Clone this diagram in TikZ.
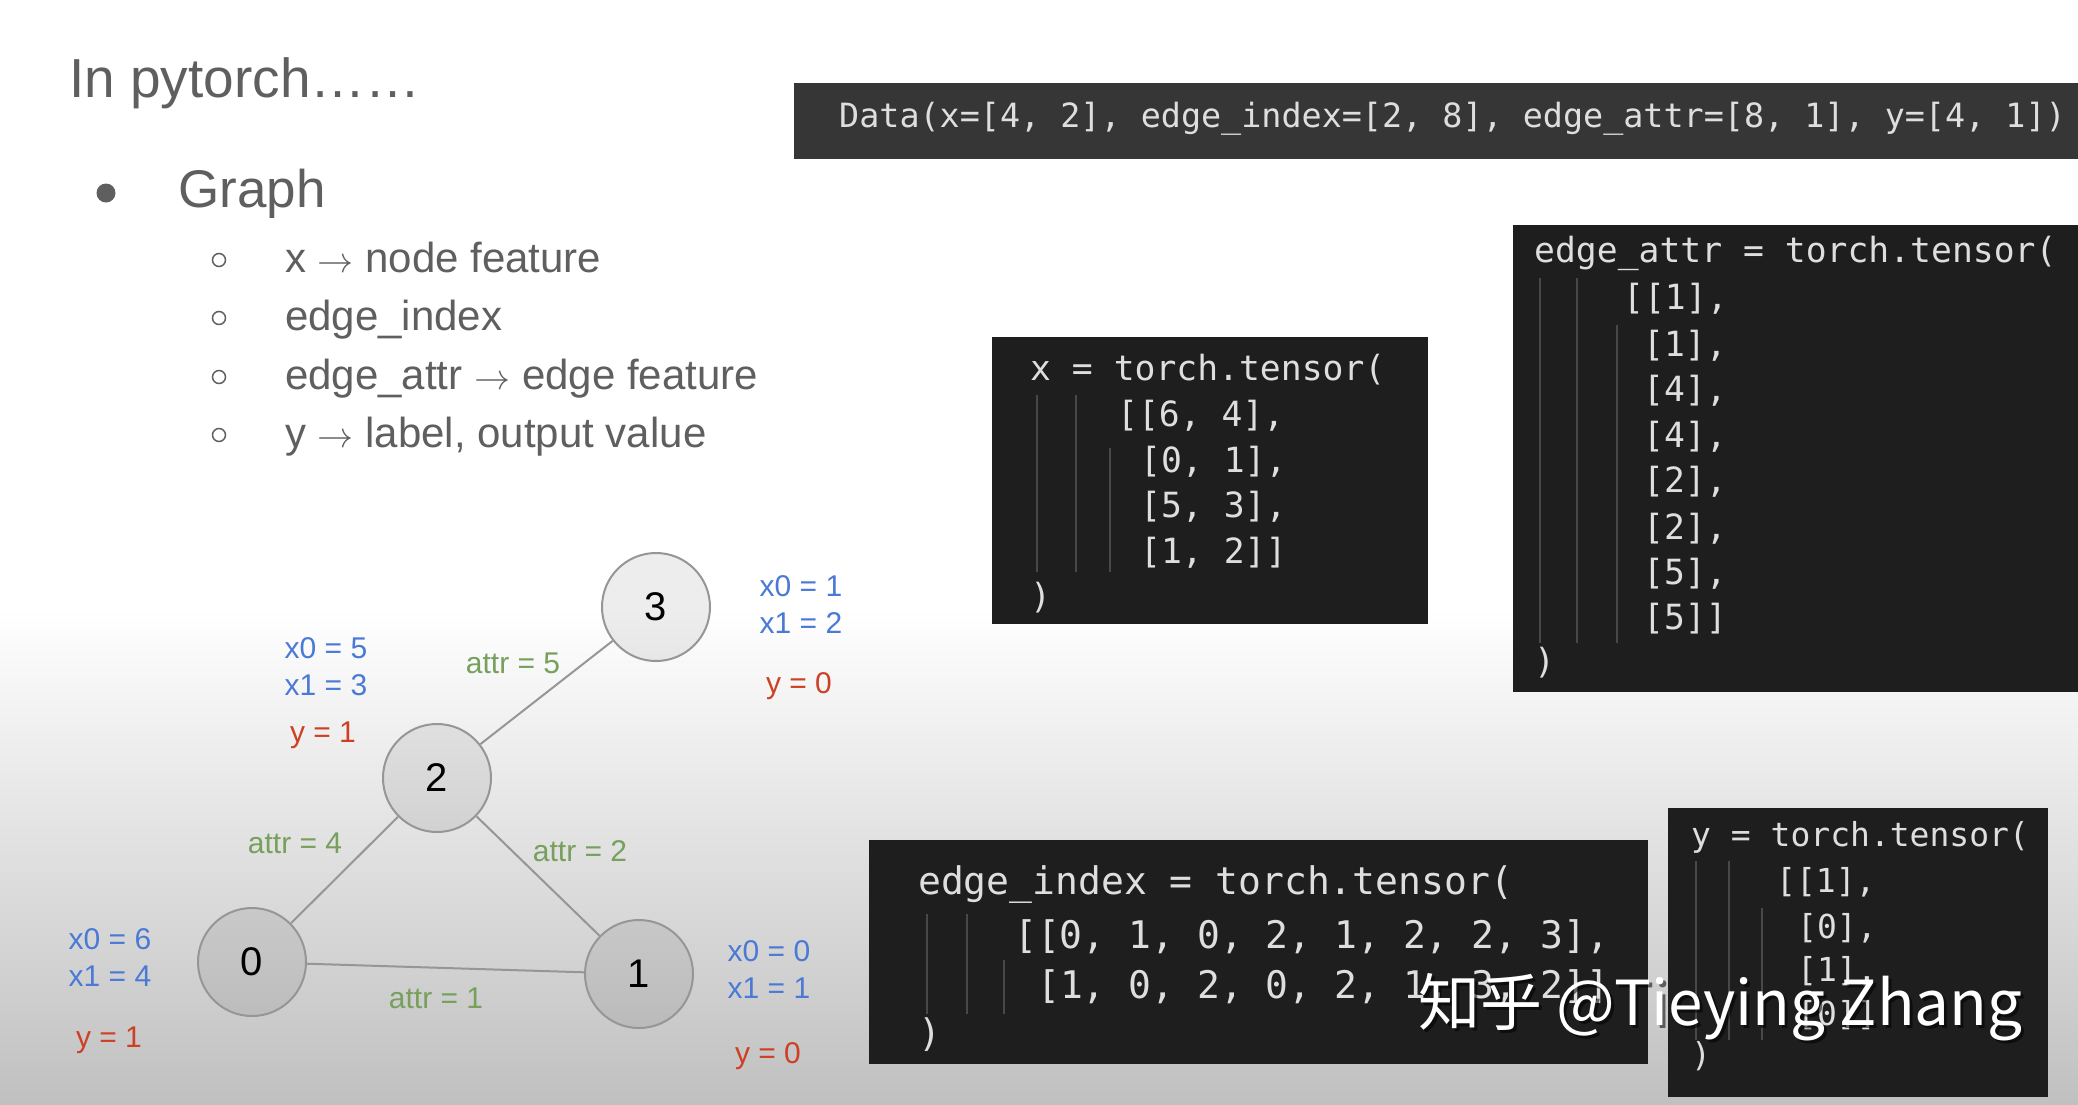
\documentclass[tikz,border=0pt]{standalone}
\usepackage{fontspec}
\setmainfont{Liberation Sans}
\newfontfamily\codefont{DejaVu Sans Mono}
\newfontfamily\cjkfont{Noto Sans CJK SC}
\definecolor{slidegray}{RGB}{95, 95, 95}
\definecolor{featblue}{RGB}{74, 122, 214}
\definecolor{labelred}{RGB}{204, 65, 37}
\definecolor{attrgreen}{RGB}{118, 160, 92}
\definecolor{codebg}{RGB}{30, 30, 30}
\definecolor{databg}{RGB}{54, 54, 54}
\definecolor{codefg}{RGB}{222, 222, 222}
\definecolor{guide}{RGB}{72, 72, 72}
\definecolor{edgegray}{RGB}{150, 150, 150}
\definecolor{bgbottom}{RGB}{192, 192, 192}

\tikzset{
  gnode/.style={circle, draw=edgegray, line width=2pt, fill=black, fill opacity=0.07, text opacity=1,
    minimum size=108pt, inner sep=0pt, font=\fontsize{40}{40}\selectfont},
  feat/.style={text=featblue, align=left, font=\fontsize{30}{37}\selectfont},
  ylab/.style={text=labelred, font=\fontsize{30}{37}\selectfont},
  attr/.style={text=attrgreen, font=\fontsize{30}{37}\selectfont},
  codeline/.style={anchor=west, inner sep=0pt, text=codefg},
  guideline/.style={draw=guide, line width=1.2pt},
}
\newcommand{\toarrow}{ \scalebox{3.6}{\normalsize$\rightarrow$} }

\begin{document}
\begin{tikzpicture}[x=1pt, y=-1pt]
  \useasboundingbox (0,0) rectangle (2078,1104);
  % background
  \fill[white] (0,0) rectangle (2078,1104);
  \shade[top color=white, bottom color=bgbottom] (0,610) rectangle (2078,1104);

  % slide text
  \node[anchor=base west, inner sep=0pt, text=slidegray, font=\fontsize{55}{60}\selectfont] (title) at (69,97) {In pytorch……};
  \node[circle, fill=slidegray, inner sep=0pt, minimum size=19pt] (dot) at (106,193) {};
  \node[anchor=base west, inner sep=0pt, text=slidegray, font=\fontsize{53}{60}\selectfont] (graph) at (178,207) {Graph};
  \node[circle, draw=slidegray, line width=1.5pt, inner sep=0pt, minimum size=13pt] (b1) at (219,260) {};
  \node[circle, draw=slidegray, line width=1.5pt, inner sep=0pt, minimum size=13pt] (b2) at (219,318) {};
  \node[circle, draw=slidegray, line width=1.5pt, inner sep=0pt, minimum size=13pt] (b3) at (219,377) {};
  \node[circle, draw=slidegray, line width=1.5pt, inner sep=0pt, minimum size=13pt] (b4) at (219,435) {};
  \node[anchor=base west, inner sep=0pt, text=slidegray, font=\fontsize{42}{48}\selectfont] (item1) at (285,272) {x\toarrow node feature};
  \node[anchor=base west, inner sep=0pt, text=slidegray, font=\fontsize{42}{48}\selectfont] (item2) at (285,330) {edge\_index};
  \node[anchor=base west, inner sep=0pt, text=slidegray, font=\fontsize{42}{48}\selectfont] (item3) at (285,389) {edge\_attr\toarrow edge feature};
  \node[anchor=base west, inner sep=0pt, text=slidegray, font=\fontsize{42}{48}\selectfont] (item4) at (285,447) {y\toarrow label, output value};

  % the graph
  \node[gnode] (n3) at (656,607) {3};
  \node[gnode] (n2) at (437,778) {2};
  \node[gnode] (n0) at (252,962) {0};
  \node[gnode] (n1) at (639,974) {1};
  \draw[edgegray, line width=2pt] (n2) -- (n3);
  \draw[edgegray, line width=2pt] (n2) -- (n0);
  \draw[edgegray, line width=2pt] (n2) -- (n1);
  \draw[edgegray, line width=2pt] (n0) -- (n1);
  \node[attr] (a5) at (513,663) {attr = 5};
  \node[attr] (a4) at (295,843) {attr = 4};
  \node[attr] (a2) at (580,851) {attr = 2};
  \node[attr] (a1) at (436,998) {attr = 1};
  \node[feat] (f3) at (801,605) {x0 = 1\\x1 = 2};
  \node[ylab] (y3) at (799,686) {y = 0};
  \node[feat] (f2) at (326,667) {x0 = 5\\x1 = 3};
  \node[ylab] (y2) at (323,735) {y = 1};
  \node[feat] (f0) at (110,958) {x0 = 6\\x1 = 4};
  \node[ylab] (y0) at (109,1040) {y = 1};
  \node[feat] (f1) at (769,970) {x0 = 0\\x1 = 1};
  \node[ylab] (y1) at (768,1056) {y = 0};

  % Data(...) bar
  \fill[databg] (794,83) rectangle (2078,159);
  \node[codeline, font=\codefont\fontsize{33.4}{40}\selectfont] (data) at (839,119) {Data(x=[4, 2], edge\_index=[2, 8], edge\_attr=[8, 1], y=[4, 1])};

  % x tensor
  \fill[codebg] (992,337) rectangle (1428,624);
  \draw[guideline] (1037,395) -- (1037,572);
  \draw[guideline] (1076,395) -- (1076,572);
  \draw[guideline] (1110,448) -- (1110,572);
  \node[codeline, font=\codefont\fontsize{34.7}{40}\selectfont] (xa) at (1030,370) {x = torch.tensor(};
  \node[codeline, font=\codefont\fontsize{34.7}{40}\selectfont] (xb) at (1117,416) {[[6, 4],};
  \node[codeline, font=\codefont\fontsize{34.7}{40}\selectfont] (xc) at (1140,462) {[0, 1],};
  \node[codeline, font=\codefont\fontsize{34.7}{40}\selectfont] (xd) at (1140,507) {[5, 3],};
  \node[codeline, font=\codefont\fontsize{34.7}{40}\selectfont] (xe) at (1140,553) {[1, 2]]};
  \node[codeline, font=\codefont\fontsize{34.7}{40}\selectfont] (xf) at (1030,598) {)};

  % edge_attr tensor
  \fill[codebg] (1513,225) rectangle (2078,692);
  \draw[guideline] (1540,278) -- (1540,643);
  \draw[guideline] (1577,278) -- (1577,643);
  \draw[guideline] (1617,325) -- (1617,643);
  \node[codeline, font=\codefont\fontsize{34.7}{40}\selectfont] (ea) at (1534,253) {edge\_attr = torch.tensor(};
  \node[codeline, font=\codefont\fontsize{34.7}{40}\selectfont] (eb) at (1623,299) {[[1],};
  \node[codeline, font=\codefont\fontsize{34.7}{40}\selectfont] (ec) at (1643,346) {[1],};
  \node[codeline, font=\codefont\fontsize{34.7}{40}\selectfont] (ed) at (1643,391) {[4],};
  \node[codeline, font=\codefont\fontsize{34.7}{40}\selectfont] (ee) at (1643,437) {[4],};
  \node[codeline, font=\codefont\fontsize{34.7}{40}\selectfont] (ef) at (1643,482) {[2],};
  \node[codeline, font=\codefont\fontsize{34.7}{40}\selectfont] (eg) at (1643,529) {[2],};
  \node[codeline, font=\codefont\fontsize{34.7}{40}\selectfont] (eh) at (1643,574) {[5],};
  \node[codeline, font=\codefont\fontsize{34.7}{40}\selectfont] (ei) at (1643,619) {[5]]};
  \node[codeline, font=\codefont\fontsize{34.7}{40}\selectfont] (ej) at (1534,663) {)};

  % edge_index tensor
  \fill[codebg] (869,840) rectangle (1648,1064);
  \draw[guideline] (927,914) -- (927,1014);
  \draw[guideline] (967,914) -- (967,1014);
  \draw[guideline] (1004,960) -- (1004,1014);
  \node[codeline, font=\codefont\fontsize{38}{44}\selectfont] (ia) at (918,885) {edge\_index = torch.tensor(};
  \node[codeline, font=\codefont\fontsize{38}{44}\selectfont] (ib) at (1014,937) {[[0, 1, 0, 2, 1, 2, 2, 3],};
  \node[codeline, font=\codefont\fontsize{38}{44}\selectfont] (ic) at (1037,987) {[1, 0, 2, 0, 2, 1, 3, 2]]};
  \node[codeline, font=\codefont\fontsize{38}{44}\selectfont] (id) at (918,1035) {)};

  % y tensor
  \fill[codebg] (1668,808) rectangle (2048,1097);
  \draw[guideline] (1696,861) -- (1696,1040);
  \draw[guideline] (1729,861) -- (1729,1040);
  \draw[guideline] (1762,908) -- (1762,1040);
  \node[codeline, font=\codefont\fontsize{33}{40}\selectfont] (ya) at (1691,837) {y = torch.tensor(};
  \node[codeline, font=\codefont\fontsize{33}{40}\selectfont] (yb) at (1776,882) {[[1],};
  \node[codeline, font=\codefont\fontsize{33}{40}\selectfont] (yc) at (1797,928) {[0],};
  \node[codeline, font=\codefont\fontsize{33}{40}\selectfont] (yd) at (1797,971) {[1],};
  \node[codeline, font=\codefont\fontsize{33}{40}\selectfont] (ye) at (1797,1015) {[0]]};
  \node[codeline, font=\codefont\fontsize{33}{40}\selectfont] (yf) at (1691,1056) {)};

  % watermark
  \node[anchor=west, inner sep=0pt, text=black, text opacity=0.55, font=\cjkfont\fontsize{62}{70}\selectfont] (markshadow) at (1421,1010) {知乎 @Tieying Zhang};
  \node[anchor=west, inner sep=0pt, text=white, font=\cjkfont\fontsize{62}{70}\selectfont] (mark) at (1418,1007) {知乎 @Tieying Zhang};
\end{tikzpicture}
\end{document}
